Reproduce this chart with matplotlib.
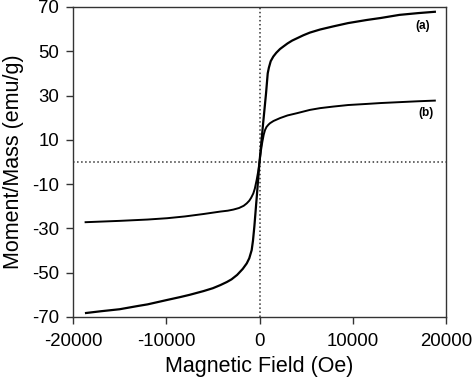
import matplotlib
matplotlib.use('Agg')
from matplotlib import pyplot as plt

plt.rcParams['font.family'] = ['Liberation Sans', 'DejaVu Sans']
plt.rcParams['axes.unicode_minus'] = False

# curve (a)
field_a = [-18600, -17000, -15000, -13000, -12000, -9900, -8500, -7500, -6000, -5000,
           -4200, -3500, -3000, -2400, -1800, -1370, -1100, -840, -700, -550, -300, 0,
           400, 700, 880, 1000, 1200, 1480, 1800, 2200, 2550, 3000, 3500, 4000, 4700,
           5400, 6500, 7900, 9500, 11500, 13000, 15000, 17000, 18800]
moment_a = [-68.2, -67.4, -66.5, -65.0, -64.3, -62.3, -61.0, -60.0, -58.3, -57.0,
            -55.6, -54.2, -53.0, -51.0, -48.3, -45.8, -43.5, -39.8, -35.5, -29.0, -16.0, 0.0,
            18.0, 31.0, 40.0, 42.5, 45.5, 47.6, 49.3, 51.0, 52.1, 53.5, 54.8, 55.8, 57.2,
            58.4, 59.8, 61.2, 62.7, 64.1, 65.0, 66.4, 67.2, 67.8]

# curve (b)
field_b = [-18650, -15000, -12000, -9900, -8000, -6000, -4200, -3400, -2800, -2200,
           -1700, -1370, -1100, -900, -665, -500, -300, -150, 0, 150, 300, 450, 590,
           750, 950, 1126, 1500, 2200, 3000, 4000, 5400, 6500, 7900, 9500, 11500,
           13000, 15000, 17000, 18800]
moment_b = [-27.2, -26.6, -26.0, -25.4, -24.6, -23.5, -22.4, -22.0, -21.5, -20.8,
            -19.8, -18.7, -17.5, -16.2, -14.2, -12.0, -8.0, -4.5, 0.0, 5.0, 9.0, 12.3, 14.4,
            15.8, 16.8, 17.5, 18.5, 19.8, 21.0, 22.0, 23.5, 24.3, 25.0, 25.7, 26.2,
            26.6, 27.0, 27.4, 27.7]

xticks = [-20000, -10000, 0, 10000, 20000]
yticks = [-70, -50, -30, -10, 10, 30, 50, 70]

fig = plt.figure(figsize=(4.74, 3.84), dpi=100)
ax = fig.add_axes([0.154, 0.1745, 0.787, 0.8075])

ax.axhline(0, color='#333333', linestyle=':', linewidth=1.1)
ax.axvline(0, color='#333333', linestyle=':', linewidth=1.1)

ax.plot(field_a, moment_a, color='black', linewidth=1.6)
ax.plot(field_b, moment_b, color='black', linewidth=1.4)

ax.text(17530, 61.4, '(a)', fontsize=8.5, fontweight='bold', ha='center', va='center')
ax.text(17850, 22.1, '(b)', fontsize=8.5, fontweight='bold', ha='center', va='center')

ax.set_xlim(-20000, 20000)
ax.set_ylim(-70, 70)
ax.set_xticks(xticks)
ax.set_yticks(yticks)
ax.tick_params(axis='both', direction='out', length=5, width=1, labelsize=13.4,
               color='#333333')
ax.tick_params(axis='x', pad=6.5)
ax.tick_params(axis='y', pad=5)
for s in ax.spines.values():
    s.set_color('#333333')
    s.set_linewidth(1)

ax.set_xlabel('Magnetic Field (Oe)', fontsize=15.5, labelpad=4)
ax.set_ylabel('Moment/Mass (emu/g)', fontsize=15.5, labelpad=6)

fig.savefig('out.png', dpi=100)
